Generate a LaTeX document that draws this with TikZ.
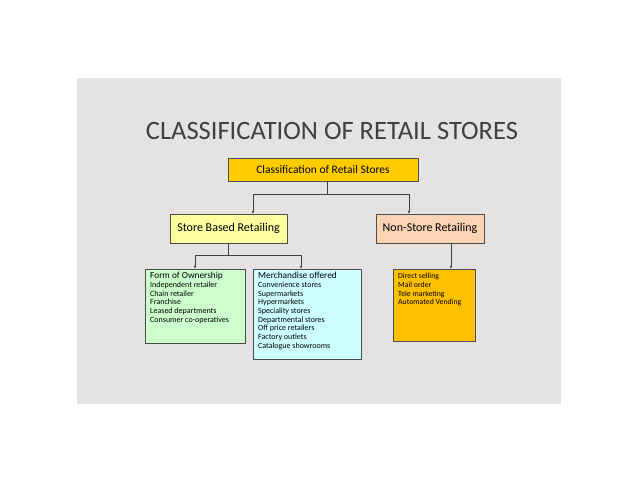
\documentclass[tikz,border=0pt]{standalone}
\usepackage{fontspec}
\setmainfont{Carlito}
\usetikzlibrary{arrows.meta}
\definecolor{slide}{HTML}{E4E3E1}
\begin{document}
\begin{tikzpicture}[x=1pt,y=-1pt,
  bx/.style={draw=black!70,line width=0.6pt,inner sep=0pt},
  lst/.style={anchor=north west,align=left,font=\fontsize{8}{8.7}\selectfont,inner sep=0pt},
  arr/.style={draw=black!75,line width=0.7pt,-{Latex[length=3pt,width=2.5pt]}}]
\useasboundingbox (0,0) rectangle (638,479);
\fill[white] (0,0) rectangle (638,479);
\fill[slide] (77,78) rectangle (561,404);
\node[font=\fontsize{26.5}{30}\selectfont,text=black!75] (title) at (332,131) {CLASSIFICATION OF RETAIL STORES};
\node[bx,fill={rgb,255:red,255;green,204;blue,0},minimum width=190pt,minimum height=23pt,font=\fontsize{11.5}{13}\selectfont] (top) at (323,169.5) {Classification of Retail Stores};
\node[bx,fill={rgb,255:red,255;green,255;blue,160},minimum width=117pt,minimum height=29pt,font=\fontsize{12}{14}\selectfont] (sb) at (228.5,228.5) {Store Based Retailing};
\node[bx,fill={rgb,255:red,251;green,212;blue,180},minimum width=108pt,minimum height=29pt,font=\fontsize{12}{14}\selectfont] (ns) at (430,228.5) {Non-Store Retailing};
\node[bx,fill={rgb,255:red,204;green,255;blue,204},minimum width=100pt,minimum height=74pt] (fo) at (195,306) {};
\node[bx,fill={rgb,255:red,204;green,255;blue,255},minimum width=108pt,minimum height=90pt] (mo) at (307,314) {};
\node[bx,fill={rgb,255:red,255;green,192;blue,0},minimum width=82pt,minimum height=72pt] (dir) at (434,305) {};
\node[lst] (fot) at (150,272) {{\fontsize{9.3}{9}\selectfont Form of Ownership}\\Independent retailer\\Chain retailer\\Franchise\\Leased departments\\Consumer co-operatives};
\node[lst] (mot) at (258,272) {{\fontsize{9.3}{9}\selectfont Merchandise offered}\\Convenience stores\\Supermarkets\\Hypermarkets\\Speciality stores\\Departmental stores\\Off price retailers\\Factory outlets\\Catalogue showrooms};
\node[lst,font=\fontsize{7.8}{8.7}\selectfont] (dirt) at (398,273) {Direct selling\\Mail order\\Tele marketing\\Automated Vending};
\coordinate (j1) at (327,194);
\coordinate (j2) at (228,255);
\draw[draw=black!75,line width=0.7pt] (top.south -| j1) -- (j1);
\draw[arr] (j1) -| (253,214);
\draw[arr] (j1) -| (409,214);
\draw[draw=black!75,line width=0.7pt] (sb.south -| j2) -- (j2);
\draw[arr] (j2) -| (fo.north);
\draw[arr] (j2) -| (301,269);
\draw[arr] (451,243) -- (451,269);
\end{tikzpicture}
\end{document}
